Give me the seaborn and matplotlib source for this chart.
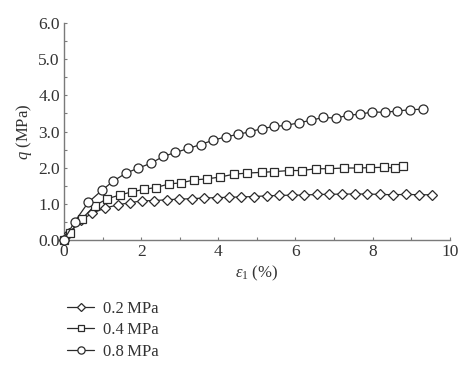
import pandas as pd
import seaborn as sns
import matplotlib.pyplot as plt
from matplotlib.ticker import MultipleLocator

# Données : déformation axiale (%) et déviateur q (MPa)
x_02 = [0, 0.13, 0.45, 0.73, 1.06, 1.39, 1.71, 2.01, 2.33, 2.66, 2.98, 3.31, 3.63, 3.96,
        4.28, 4.60, 4.92, 5.25, 5.57, 5.90, 6.22, 6.55, 6.87, 7.20, 7.53, 7.86, 8.19,
        8.53, 8.86, 9.20, 9.53]
q_02 = [0, 0.20, 0.55, 0.74, 0.88, 0.97, 1.03, 1.08, 1.09, 1.11, 1.13, 1.14, 1.16, 1.17,
        1.18, 1.19, 1.20, 1.22, 1.23, 1.24, 1.24, 1.26, 1.26, 1.27, 1.27, 1.27, 1.26,
        1.25, 1.26, 1.25, 1.25]

x_04 = [0, 0.16, 0.46, 0.80, 1.12, 1.44, 1.76, 2.07, 2.38, 2.73, 3.04, 3.37, 3.71, 4.04,
        4.41, 4.75, 5.12, 5.45, 5.84, 6.17, 6.53, 6.87, 7.25, 7.61, 7.93, 8.30, 8.59, 8.78]
q_04 = [0, 0.20, 0.58, 0.95, 1.14, 1.24, 1.33, 1.40, 1.45, 1.55, 1.58, 1.66, 1.69, 1.74,
        1.82, 1.85, 1.87, 1.89, 1.92, 1.92, 1.97, 1.97, 1.99, 1.99, 2.00, 2.01, 1.99, 2.05]

x_08 = [0, 0.28, 0.63, 0.98, 1.28, 1.61, 1.93, 2.25, 2.57, 2.89, 3.22, 3.54, 3.87, 4.19,
        4.50, 4.81, 5.13, 5.45, 5.76, 6.08, 6.40, 6.72, 7.05, 7.36, 7.68, 7.99, 8.33,
        8.64, 8.97, 9.30]
q_08 = [0, 0.51, 1.04, 1.37, 1.63, 1.85, 1.99, 2.12, 2.31, 2.42, 2.53, 2.64, 2.76, 2.85,
        2.92, 2.99, 3.08, 3.14, 3.17, 3.24, 3.31, 3.39, 3.37, 3.45, 3.48, 3.54, 3.53,
        3.57, 3.60, 3.62]

series = [
    ("0.2\u2009MPa", x_02, q_02, "D", 5),
    ("0.4\u2009MPa", x_04, q_04, "s", 6),
    ("0.8\u2009MPa", x_08, q_08, "o", 6.5),
]

sns.set_style("ticks")
plt.rcParams["font.family"] = ["Liberation Serif", "DejaVu Serif"]
plt.rcParams["mathtext.fontset"] = "custom"
plt.rcParams["mathtext.rm"] = "Liberation Serif"
plt.rcParams["mathtext.it"] = "Liberation Serif:italic"

fig = plt.figure(figsize=(4.74, 3.72), dpi=100)
ax = fig.add_axes([0.135, 0.355, 0.814, 0.583])

line_color = "#2b2b2b"
for label, xs, qs, marker, ms in series:
    df = pd.DataFrame({"eps": xs, "q": qs})
    sns.lineplot(data=df, x="eps", y="q", ax=ax, sort=False, label=label,
                 color=line_color, linewidth=0.9, marker=marker, markersize=ms,
                 markerfacecolor="white", markeredgecolor=line_color,
                 markeredgewidth=0.9, clip_on=False, zorder=3)

ax.set_xlim(0, 10)
ax.set_ylim(0, 6.0)
ax.xaxis.set_major_locator(MultipleLocator(2))
ax.xaxis.set_minor_locator(MultipleLocator(1))
ax.yaxis.set_major_locator(MultipleLocator(1))
ax.yaxis.set_minor_locator(MultipleLocator(0.5))
ax.set_yticks(ax.get_yticks())
ax.set_yticklabels([f"{v:.1f}" for v in ax.get_yticks()])
ax.set_ylim(0, 6.0)

spine_c = "#7a7a7a"
for s in ["top", "right"]:
    ax.spines[s].set_visible(False)
for s in ["left", "bottom"]:
    ax.spines[s].set_color(spine_c)
    ax.spines[s].set_linewidth(1.0)
ax.tick_params(which="both", direction="in", length=2.5, width=0.8,
               color=spine_c, labelsize=12.5, labelcolor="#333333", pad=3)

ax.set_xlabel(r"$\varepsilon_1$ (%)", fontsize=12, color="#333333", labelpad=3)
ax.set_ylabel(r"$q$ (MPa)", fontsize=12, color="#333333", labelpad=3)

ax.legend(loc="upper left", bbox_to_anchor=(0.128, 0.21), bbox_transform=fig.transFigure,
          frameon=False, fontsize=12, handlelength=1.6, handletextpad=0.55,
          labelspacing=0.33, borderaxespad=0, labelcolor="#333333", markerscale=0.8)

plt.savefig("out.png", dpi=100)
plt.close()
